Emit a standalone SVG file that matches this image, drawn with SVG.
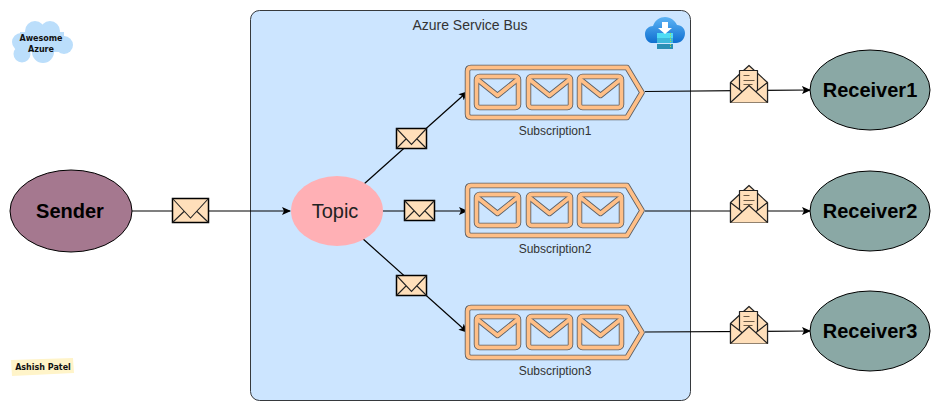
<svg xmlns="http://www.w3.org/2000/svg" width="941" height="411" viewBox="0 0 941 411">
<style>
.t{font-family:"Liberation Sans",Arial,sans-serif;fill:#000}
.lbl{font-size:12px;fill:#333;text-anchor:middle}
.big{font-size:20px;font-weight:bold;text-anchor:middle}
.hand{font-family:"DejaVu Sans",sans-serif;font-weight:bold;font-size:8px;text-anchor:middle;fill:#111}
.c{fill:none;stroke:#000;stroke-width:1.2}
.env{fill:#ffdfba;stroke:#000;stroke-width:1.5}
.envl{fill:none;stroke:#222;stroke-width:1.1}
.qd{fill:none;stroke:#5a5f66;stroke-width:5.500;stroke-linejoin:round}
.qo{fill:none;stroke:#ffbf87;stroke-width:3.800;stroke-linejoin:round}
.op{fill:#ffdfba;stroke:#222;stroke-width:1.2;stroke-linejoin:round}
</style>
<defs>
<marker id="a" markerWidth="9" markerHeight="8" refX="8" refY="4" orient="auto" markerUnits="userSpaceOnUse"><path d="M0 0L9 4L0 8L2 4Z" fill="#000"/></marker>
<linearGradient id="sky" x1="0" y1="0" x2="0" y2="1"><stop offset="0" stop-color="#5db4f5"/><stop offset="1" stop-color="#0f6fd0"/></linearGradient>
<g id="box"><rect x="0" y="0" width="42" height="31" rx="3" class="qd"/><path d="M1 3L21 19L41 3" class="qd"/><rect x="0" y="0" width="42" height="31" rx="3" class="qo"/><path d="M1 3L21 19L41 3" class="qo"/></g>
<g id="queue"><path id="qp" d="M6 2.500H162L177 27.500L162 52.500H6Q2.500 52.500 2.500 49V6Q2.500 2.500 6 2.500Z" class="qd"/><path d="M6 2.500H162L177 27.500L162 52.500H6Q2.500 52.500 2.500 49V6Q2.500 2.500 6 2.500Z" class="qo"/><use href="#box" x="11.500" y="11.500"/><use href="#box" x="63.500" y="11.500"/><use href="#box" x="114.500" y="11.500"/></g>
<g id="open"><path d="M0 17L18.500 0L37 17V37H0Z" class="op"/><rect x="9" y="5" width="18" height="22" class="op"/><path d="M13 10H19M13 15H24M13 19H22" stroke="#6b5a45" stroke-width="1.200" fill="none"/><path d="M0 17L14 28L18.500 21L23 28L37 17V37H0Z" class="op"/><path d="M0 37L18.500 20L37 37" class="op" fill="none"/></g>
</defs>
<rect width="941" height="411" fill="#fff"/>
<g id="service-bus"><rect x="250.500" y="10.500" width="440" height="390" rx="9" fill="#cce5ff" stroke="#36393d" stroke-width="1"/><text x="470" y="30" class="t" font-size="14" text-anchor="middle" style="fill:#333">Azure Service Bus</text></g>
<g id="connectors">
<path class="c" d="M132 211H290" marker-end="url(#a)"/>
<path class="c" d="M364 184L467 92" marker-end="url(#a)"/>
<path class="c" d="M381 211H467" marker-end="url(#a)"/>
<path class="c" d="M362 238L467 332" marker-end="url(#a)"/>
<path class="c" d="M645 91.500L810 90" marker-end="url(#a)"/>
<path class="c" d="M645 211H810" marker-end="url(#a)"/>
<path class="c" d="M645 332L810 331" marker-end="url(#a)"/>
</g>
<g id="sender"><ellipse cx="71" cy="211" rx="61" ry="41" fill="#a5788f" stroke="#000" stroke-width="1"/><text x="70" y="218" class="t big">Sender</text></g>
<g id="topic"><ellipse cx="337" cy="211" rx="46" ry="35" fill="#ffb0b5"/><text x="335" y="218" class="t" font-size="20" text-anchor="middle" style="fill:#222">Topic</text></g>
<g id="receiver1"><ellipse cx="870" cy="90" rx="60" ry="40" fill="#8aa8a5" stroke="#000" stroke-width="1"/><text x="870" y="97" class="t big">Receiver1</text></g>
<g id="receiver2"><ellipse cx="870" cy="211" rx="60" ry="40" fill="#8aa8a5" stroke="#000" stroke-width="1"/><text x="870" y="218" class="t big">Receiver2</text></g>
<g id="receiver3"><ellipse cx="870" cy="331" rx="60" ry="40" fill="#8aa8a5" stroke="#000" stroke-width="1"/><text x="870" y="338" class="t big">Receiver3</text></g>
<g id="subscription1"><use href="#queue" x="465" y="65"/><text x="555" y="135" class="t lbl">Subscription1</text></g>
<g id="subscription2"><use href="#queue" x="465" y="183"/><text x="555" y="253" class="t lbl">Subscription2</text></g>
<g id="subscription3"><use href="#queue" x="465" y="305"/><text x="555" y="375" class="t lbl">Subscription3</text></g>
<g id="msg-sender"><rect x="172.500" y="198.500" width="36" height="24" class="env"/><path class="envl" d="M172.500 198.500L190.500 218L208.500 198.500M172.500 222.500L184 211.500M208.500 222.500L197 211.500"/></g>
<g id="msg-1"><rect x="396.500" y="128.500" width="30" height="20" class="env"/><path class="envl" d="M396.500 128.500L411.500 144.500L426.500 128.500M396.500 148.500L406 139M426.500 148.500L417 139"/></g>
<g id="msg-2"><rect x="404.500" y="200.500" width="30" height="20" class="env"/><path class="envl" d="M404.500 200.500L419.500 216.500L434.500 200.500M404.500 220.500L414 211M434.500 220.500L425 211"/></g>
<g id="msg-3"><rect x="396.500" y="275.500" width="30" height="20" class="env"/><path class="envl" d="M396.500 275.500L411.500 291.500L426.500 275.500M396.500 295.500L406 286M426.500 295.500L417 286"/></g>
<use id="open-1" href="#open" x="730.500" y="65.500"/>
<use id="open-2" href="#open" x="730.500" y="185.500"/>
<use id="open-3" href="#open" x="730.500" y="306.500"/>
<g id="cloud-icon">
<path d="M651 43C647 42 645 38 645 34C645 29 649 26 653 26C655 20 660 17 665 17C671 17 675 21 677 25C682 25 685 29 685 33C685 39 681 43 676 43Z" fill="url(#sky)"/>
<rect x="657" y="33" width="16" height="5" fill="#4fdcf5"/><rect x="657" y="38" width="16" height="5" fill="#3cb8dc"/><rect x="657" y="44" width="16" height="5" fill="#2a8fb5"/>
<path d="M670.500 33V38M670.500 39V43M670.500 44V48" stroke="#a8e04a" stroke-width="1" stroke-dasharray="1 1"/>
<path d="M662 22H668V28H672L665 34L658 28H662Z" fill="#fff"/>
</g>
<g id="awesome-azure">
<circle cx="22" cy="54" r="8.500" fill="#bbdefb"/><circle cx="21" cy="42" r="9" fill="#bbdefb"/><circle cx="35" cy="31" r="10" fill="#bbdefb"/><circle cx="50" cy="31" r="10" fill="#bbdefb"/><circle cx="64" cy="45" r="9" fill="#bbdefb"/><circle cx="43" cy="52" r="11" fill="#bbdefb"/><rect x="20" y="32" width="44" height="20" fill="#bbdefb"/>
<text x="41" y="41" class="hand">Awesome</text><text x="41" y="52" class="hand">Azure</text>
</g>
<g id="author"><path d="M11 360L73 358L74 373L12 376Z" fill="#fff4c9"/><text x="43" y="370" class="hand">Ashish Patel</text></g>
</svg>
